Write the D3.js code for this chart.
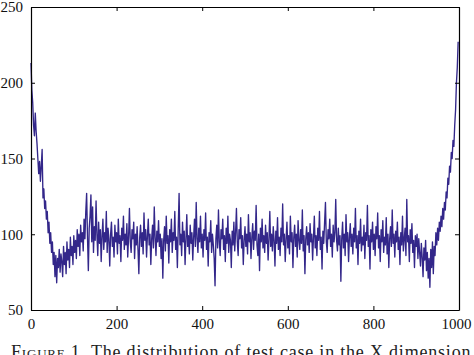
<!DOCTYPE html>
<html>
<head>
<meta charset="utf-8">
<script src="https://cdn.jsdelivr.net/npm/d3@7"></script>
<style>
  html, body { margin: 0; padding: 0; background: #fff; }
  svg { display: block; }
</style>
</head>
<body>
<svg id="chart" width="474" height="355"></svg>
<script>
// x sampled every 2 units from 0 to 998
const xStep = 2;
const values = [
  213,195,187,172,165,180,168,160,150,140,148,135,145,156,124,130,117,122,110,115,101,108,94,101,88,
  95,80,88,72,86,68,84,78,90,75,87,82,72,92,80,88,74,95,83,90,78,98,86,92,80,
  99,88,96,84,103,92,100,86,106,95,101,89,110,97,115,127,98,76,104,112,126,95,118,88,105,
  96,122,100,86,108,94,103,82,99,110,90,101,95,115,88,104,97,79,100,108,92,98,85,106,95,
  101,87,110,94,99,82,104,96,112,90,100,93,107,85,98,117,95,88,103,97,108,84,100,93,105,
  90,74,98,106,92,101,87,114,96,103,85,99,110,93,100,80,97,106,91,118,98,86,102,95,109,
  92,100,84,97,71,96,105,89,112,94,99,81,103,95,110,88,101,96,115,90,98,78,104,127,93,
  100,86,108,95,102,80,97,113,92,99,87,106,94,101,83,98,110,92,121,97,88,104,95,112,91,
  100,85,103,96,114,90,98,79,101,95,109,88,100,93,84,66,97,106,91,116,95,86,103,97,110,
  90,99,82,104,94,112,88,100,96,78,102,93,108,89,101,117,95,86,103,97,111,91,99,80,96,
  105,92,100,87,113,95,101,84,98,107,90,102,96,119,93,86,100,76,104,95,110,91,99,88,106,
  94,101,83,97,115,92,100,89,105,96,79,102,94,111,90,98,86,104,95,120,93,100,82,97,108,
  91,99,87,112,95,101,78,98,106,92,100,85,109,96,90,103,94,116,89,99,74,97,105,93,101,
  88,107,95,100,83,98,112,91,99,86,104,96,115,90,98,77,102,94,108,121,95,88,103,97,110,
  92,100,85,106,95,101,123,96,89,104,93,99,69,97,108,91,100,86,113,95,101,82,98,107,92,
  100,87,104,95,117,91,99,80,102,94,110,89,98,93,106,84,101,96,119,92,99,77,103,95,108,
  90,100,86,105,97,114,91,99,82,103,95,109,88,98,93,111,87,100,78,97,105,92,116,94,100,
  85,102,95,108,90,98,80,101,93,112,89,97,104,86,123,95,99,82,103,94,107,88,96,78,99,
  92,100,84,97,88,79,94,85,72,91,83,96,76,88,71,84,65,90,78,95,74,92,86,101,93,
  104,96,108,102,112,105,117,110,121,116,128,124,137,133,145,141,154,150,162,158,172,182,200,210,227
];
const xTicks = [0, 200, 400, 600, 800, 1000];
const yTicks = [50, 100, 150, 200, 250];
const captionLead = "Figure";
const captionRest = " 1. The distribution of test case in the X dimension";

const svg = d3.select("#chart");
const m = { left: 31, right: 459, top: 7, bottom: 310 };
const x = d3.scaleLinear().domain([0, 1000]).range([m.left, m.right]);
const y = d3.scaleLinear().domain([50, 250]).range([m.bottom, m.top]);

const line = d3.line()
  .x((d, i) => x(i * xStep))
  .y(d => y(d));

svg.append("path")
  .datum(values)
  .attr("fill", "none")
  .attr("stroke", "#33278a")
  .attr("stroke-width", 1.35)
  .attr("stroke-linejoin", "round")
  .attr("d", line);

const font = "'Liberation Serif', 'DejaVu Serif', serif";
const fmt = d3.format("d");

// axes (ticks inward, mirrored)
const axB = svg.append("g").attr("transform", `translate(0,${m.bottom})`)
  .call(d3.axisBottom(x).tickValues(xTicks).tickFormat(fmt).tickSize(-4).tickPadding(8).tickSizeOuter(0));
const axT = svg.append("g").attr("transform", `translate(0,${m.top})`)
  .call(d3.axisTop(x).tickValues(xTicks).tickSize(-4).tickFormat("").tickSizeOuter(0));
const axL = svg.append("g").attr("transform", `translate(${m.left},0)`)
  .call(d3.axisLeft(y).tickValues(yTicks).tickFormat(fmt).tickSize(-4).tickPadding(8).tickSizeOuter(0));
const axR = svg.append("g").attr("transform", `translate(${m.right},0)`)
  .call(d3.axisRight(y).tickValues(yTicks).tickSize(-4).tickFormat("").tickSizeOuter(0));

[axB, axT, axL, axR].forEach(g => {
  g.selectAll("path.domain").attr("stroke", "#000").attr("stroke-width", 1.2);
  g.selectAll(".tick line").attr("stroke", "#000").attr("stroke-width", 1);
  g.selectAll(".tick text").attr("font-family", font).attr("font-size", 15).attr("fill", "#111");
});
// keep the last x label inside the picture
axB.selectAll(".tick text").filter(d => d === 1000).attr("text-anchor", "end").attr("dx", 12);

const cap = svg.append("text")
  .attr("x", 11)
  .attr("y", 358)
  .attr("font-family", font)
  .attr("font-size", 18)
  .attr("letter-spacing", 0.8)
  .attr("fill", "#222");
cap.append("tspan").attr("font-variant", "small-caps").text(captionLead);
cap.append("tspan").text(captionRest);
</script>
</body>
</html>
